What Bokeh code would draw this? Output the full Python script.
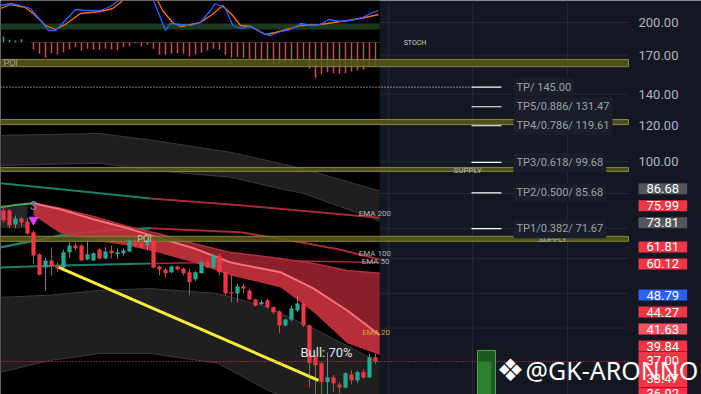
import numpy as np
from bokeh.plotting import figure
from bokeh.models import Range1d, LinearScale, Label
from bokeh.core.properties import value
from bokeh.embed import file_html
from bokeh.resources import INLINE

FONT = "Roboto"

# ---------------- data ----------------
opens = [78.5, 78.5, 73.2, 75.4, 74.3, 70.4, 63.1, 59.1, 61.2, 59.7,
         59.1, 63.7, 65.9, 65.9, 61.5, 61.2, 64.6, 61.8, 64.3, 63.1,
         63.4, 64.0, 66.9, 66.9, 65.9, 67.6, 59.4, 58.5, 57.7, 59.4,
         58.8, 57.7, 55.7, 57.4, 60.6, 59.1, 62.7, 57.7, 52.2, 51.9,
         53.8, 52.7, 50.4, 49.2, 50.2, 48.5, 47.5, 44.3, 45.6, 47.7,
         49.4, 44.3, 37.8, 36.7, 33.4, 34.2, 33.0, 32.5, 34.7, 33.7,
         35.1, 34.2, 37.8]
highs = [79.5, 79.0, 76.5, 75.9, 75.4, 71.0, 63.4, 62.1, 65.3, 60.6,
         64.6, 66.9, 66.9, 66.5, 67.6, 63.7, 65.0, 65.3, 65.9, 65.0,
         65.0, 67.9, 68.2, 68.5, 68.2, 68.2, 59.7, 59.1, 59.7, 59.7,
         59.1, 58.8, 58.0, 61.2, 61.0, 63.4, 63.4, 58.2, 56.8, 54.5,
         54.5, 53.2, 50.6, 50.2, 50.6, 48.7, 47.7, 45.6, 48.9, 51.4,
         49.7, 44.5, 38.2, 37.0, 38.7, 34.6, 33.4, 35.1, 35.4, 35.4,
         35.6, 38.4, 38.5]
lows = [73.9, 71.8, 71.8, 72.3, 69.5, 60.3, 56.8, 52.7, 56.8, 57.7,
        58.8, 62.1, 64.3, 61.0, 61.2, 61.0, 61.5, 61.6, 61.8, 61.8,
        62.7, 63.7, 65.3, 65.0, 64.3, 58.8, 56.8, 56.3, 57.4, 58.2,
        56.8, 51.4, 55.2, 57.4, 58.9, 58.8, 56.8, 51.4, 49.7, 49.7,
        51.9, 50.2, 48.7, 49.0, 48.2, 46.9, 42.6, 44.0, 45.2, 47.3,
        43.9, 32.5, 31.0, 31.0, 31.0, 31.8, 31.6, 32.4, 33.0, 33.3,
        33.9, 34.0, 36.5]
closes = [74.7, 72.8, 75.4, 73.9, 70.0, 62.7, 57.0, 61.2, 59.4, 58.8,
          63.7, 65.9, 65.0, 61.2, 63.1, 63.4, 61.8, 64.0, 63.4, 63.7,
          64.3, 67.6, 65.9, 65.3, 67.6, 59.1, 58.5, 57.4, 59.4, 58.5,
          57.4, 54.9, 57.7, 60.6, 59.1, 62.7, 57.7, 51.9, 51.9, 53.8,
          53.2, 50.4, 48.9, 49.7, 48.5, 47.3, 44.3, 45.6, 48.2, 49.4,
          44.3, 36.7, 36.3, 33.4, 34.2, 33.2, 32.5, 34.9, 33.7, 35.1,
          34.2, 37.8, 37.0]

# momentum histogram (one bar per candle)
hist_vals = [6, 2.7, 2, 3.3, 0, -7.3, -11.3, -15.3, -10.7, -12, -9.7, -7, -4.7, -8, -6.3,
             -7.3, -7.3, -6.3, -7, -8, -4.7, -3.7, -1, -3.7, -2.3,
             -6.3, -12.3, -12.3, -11.3, -10.7, -11.3, -14, -12.3, -10.3, -8,
             -6.3, -7.3, -12.3, -15.3, -14.7, -15.3, -16.3, -18.3, -18.3, -18.3,
             -22, -21, -20.3, -19.3, -17, -16.3, -26.3, -35.7, -32, -29.7,
             -30.7, -31.3, -30.7, -29, -28, -27, -24.3, -22.7]

# stochastic (sampled where read)
stoch_k_x = [0.5, 2.2, 3.8, 5.5, 7.2, 8.5, 9.7, 11.3, 13, 14.7, 17.2, 18.8, 20.2, 23, 25.5, 26,
             28, 28.8, 30.5, 32.2, 33.8, 35.5, 36.3, 38, 39.2, 40.5, 42.2, 44.2, 45.5, 47.2,
             48.8, 50.5, 52.2, 53.8, 55.2, 57.2, 58.8, 60.8, 62.5, 63.5]
stoch_k = [62, 66, 62, 56, 32, 12, 12, 32, 54, 52, 52, 60, 72, 112, 82, 72,
           12, 26, 24, 22, 28, 52, 66, 56, 22, 16, 20, 6, 2, 10,
           14, 26, 22, 24, 34, 30, 32, 38, 48, 52]
stoch_d_x = [0.5, 2.2, 4.7, 6.3, 8, 9.7, 11.3, 13.8, 17.2, 19.2, 20.5, 23, 26.3, 27.5, 29.2,
             30.5, 32.2, 33.8, 35.8, 37.5, 39.2, 40.5, 42.2, 44.7, 46.3, 48.8, 50.5, 53.8,
             57.2, 60.5, 63.5]
stoch_d = [56, 64, 58, 42, 22, 14, 24, 46, 50, 56, 68, 102, 82, 52, 28,
           20, 24, 28, 44, 62, 42, 22, 20, 4, 8, 16, 22, 24,
           30, 36, 44]
stoch_zone = [14, 26]

# moving-average ribbon and EMAs
cloud_x = [6, 10.5, 16, 21.7, 27.2, 32.7, 38.8, 47.2, 52.7, 58.3, 63.7]
cloud_top = [81.3, 79.3, 76.2, 72.5, 69.7, 66.6, 63.7, 61.8, 60.3, 58.2, 57.4]
ema20 = [81.3, 78.9, 75.1, 71.8, 68.3, 65.0, 60.6, 57.7, 53.2, 47.7, 42.2]
cloud_bot = [76.6, 70.0, 67.6, 65.9, 63.4, 60.6, 56.8, 53.5, 47.3, 40.5, 38.2]
ema20_up_x = [0.5, 3, 6]
ema20_up = [79.7, 80.6, 81.3]

ema200_bull_x, ema200_bull = [0.5, 13, 25.5], [89.8, 86.6, 83.3]
ema200_bear_x, ema200_bear = [25.5, 40.5, 63.7], [83.3, 80.5, 75.7]
ema100_bull_x, ema100_bull = [0.5, 10.5, 18, 25.5], [65.3, 69.3, 71.0, 71.8]
ema100_bear_x, ema100_bear = [25.5, 40.5, 50.5, 57, 63.7], [71.8, 70.4, 67.0, 64.6, 61.5]
ema50_bull_x, ema50_bull = [0.5, 10.5, 25.5], [59.1, 59.7, 60.3]
ema50_bear_x, ema50_bear = [25.5, 50.5, 63.7], [60.3, 61.0, 60.6]

# envelope bands
band_up_x = [0.5, 17, 26, 39, 47, 51, 63.7]
band_up_top = [114.0, 115.1, 111.2, 104.7, 99.2, 96.5, 86.5]
band_up_bot = [98.2, 99.2, 95.8, 92.5, 87.5, 85.4, 74.5]
band_lo_x = [0.5, 8.8, 17, 25.5, 36.7, 45, 53.3, 63.7]
band_lo_top = [50.9, 51.5, 52.7, 53.2, 51.9, 48.5, 43.2, 36.8]
band_lo_bot = [35.1, 37.2, 38.5, 38.5, 36.7, 32.1, 29.0, 27.0]

# zones
zone_lo = [160.5, 120.4, 95.3, 67.3]
zone_hi = [166.4, 123.4, 97.2, 69.0]

# targets
tp_vals = [145.00, 131.47, 119.61, 99.68, 85.68, 71.67]
tp_text = ["TP/ 145.00", "TP5/0.886/ 131.47", "TP4/0.786/ 119.61",
           "TP3/0.618/ 99.68", "TP2/0.500/ 85.68", "TP1/0.382/ 71.67"]

# trend line
trend_x = [10.2, 53.5]
trend_y = [59.1, 33.7]

# volume block
vol_x = [80.0, 83.0]
vol_top = [39.1, 37.0]

# price-scale
axis_ticks = [200, 170, 140, 120, 100]
grid_prices = [200, 170, 140, 120, 100, 85.4, 71.8, 61.8, 51.9, 43.7]
time_grid = [65.2, 79.2, 95.0]
side_vals = [86.68, 75.99, 73.81, 61.81, 60.12, 48.79, 44.27, 41.63, 39.84]
side_cols = ["#55565c", "#f23645", "#55565c", "#f23645", "#f23645", "#2962ff",
             "#f23645", "#f7525f", "#f23645"]
last_price = 37.00
countdown = "33:47"
below_vals = [36.92]

# ---------------- figure ----------------
W, H = 701, 394
x_lo, x_edge = 0.5, 105.17            # chart area (price scale lies to the right of x_edge)
px_per_bar = 628 / (x_edge - x_lo)
x_hi = x_lo + W / px_per_bar
y_lo, y_hi = 31.4, 223.1
dark_end = 63.7

p = figure(width=W, height=H, x_range=Range1d(x_lo, x_hi), y_range=Range1d(y_lo, y_hi),
           y_axis_type="log", y_axis_location=None, x_axis_location=None,
           toolbar_location=None, output_backend="svg",
           background_fill_color="#131722", border_fill_color="#131722",
           min_border=0)
p.outline_line_color = None
p.grid.visible = False
p.extra_y_ranges = {"stoch": Range1d(-716, 72), "hist": Range1d(-352, 42)}
p.extra_y_scales = {"stoch": LinearScale(), "hist": LinearScale()}

# grid of the chart area
p.segment(x0=[x_lo] * len(grid_prices), y0=grid_prices, x1=[x_edge] * len(grid_prices), y1=grid_prices,
          line_color="#262a35", line_width=1)
p.segment(x0=time_grid, y0=[y_lo] * len(time_grid), x1=time_grid, y1=[y_hi] * len(time_grid),
          line_color="#262a35", line_width=1)

# price scale tick labels
p.text(x=[x_edge + 10 / px_per_bar] * len(axis_ticks), y=axis_ticks, text=[f"{t:.2f}" for t in axis_ticks],
       text_color="#b2b5be", text_font=value(FONT), text_font_size="13px",
       text_baseline="middle", text_align="left")

# dark indicator panel
p.quad(left=[x_lo], right=[dark_end], bottom=[y_lo], top=[y_hi], fill_color="black", line_color=None)

# envelope bands
p.varea(x=band_up_x, y1=band_up_bot, y2=band_up_top, fill_color="#1f1f1f")
p.line(band_up_x, band_up_top, line_color="#3a3a3a", line_width=1)
p.line(band_up_x, band_up_bot, line_color="#3a3a3a", line_width=1)
p.varea(x=band_lo_x, y1=band_lo_bot, y2=band_lo_top, fill_color="#1f1f1f")
p.line(band_lo_x, band_lo_top, line_color="#3a3a3a", line_width=1)
p.line(band_lo_x, band_lo_bot, line_color="#3a3a3a", line_width=1)

# stochastic pane
p.quad(left=[x_lo], right=[dark_end], bottom=[stoch_zone[0]], top=[stoch_zone[1]],
       fill_color="#1a3a1e", line_color=None, y_range_name="stoch")
p.line(stoch_d_x, stoch_d, line_color="#ff6d00", line_width=1.3, y_range_name="stoch")
p.line(stoch_k_x, stoch_k, line_color="#2962ff", line_width=1.3, y_range_name="stoch")

# histogram
idx = np.arange(1, len(closes) + 1)
p.segment(x0=[5.5], y0=[0], x1=[dark_end], y1=[0], line_color="#333333", line_width=1, y_range_name="hist")
hcols = ["#26a69a" if v > 0 else "#d9464f" for v in hist_vals]
p.vbar(x=idx, top=hist_vals, bottom=0, width=0.25, fill_color=hcols, line_color=None, y_range_name="hist")

# EMAs (long)
p.line(ema200_bull_x, ema200_bull, line_color="#1b7f6e", line_width=2)
p.line(ema200_bear_x, ema200_bear, line_color="#a52a34", line_width=2)
p.line(ema100_bull_x, ema100_bull, line_color="#1b7f6e", line_width=2.5)
p.line(ema100_bear_x, ema100_bear, line_color="#a52a34", line_width=2)
p.line(ema50_bull_x, ema50_bull, line_color="#1b7f6e", line_width=2)
p.line(ema50_bear_x, ema50_bear, line_color="#a52a34", line_width=1.5)

# ribbon
p.varea(x=cloud_x, y1=ema20, y2=cloud_top, fill_color="#95222c", fill_alpha=0.92)
p.varea(x=cloud_x, y1=cloud_bot, y2=ema20, fill_color="#cb323e", fill_alpha=0.9)
p.line(cloud_x, cloud_top, line_color="#b2303a", line_width=1.5)
p.line(cloud_x, ema20, line_color="#f3727a", line_width=2)
p.line(ema20_up_x, ema20_up, line_color="#4caf50", line_width=2)

# zones
p.quad(left=x_lo, right=x_edge, bottom=zone_lo, top=zone_hi, fill_color="#5a5a1f", fill_alpha=0.85,
       line_color="#85853a", line_width=1)

# candles
inc = [c >= o for o, c in zip(opens, closes)]
cols = ["#22ab94" if u else "#f23645" for u in inc]
body_lo = [min(o, c) for o, c in zip(opens, closes)]
body_hi = [max(o, c) for o, c in zip(opens, closes)]
p.quad(left=[x_lo], right=[5], bottom=[lows[1]], top=[80.5], fill_color="#6a6d78", fill_alpha=0.35, line_color=None)
p.segment(x0=idx, y0=lows, x1=idx, y1=highs, line_color=cols, line_width=1)
p.vbar(x=idx, bottom=body_lo, top=body_hi, width=0.7, fill_color=cols, line_color=None)

# signal marker
p.text(x=[6], y=[80.1], text=["S"], text_color="#8e82b8", text_font=value(FONT),
       text_font_size="12px", text_align="center", text_baseline="middle")
p.scatter(x=[6], y=[74.9], marker="inverted_triangle", size=9, color="#e040fb")

# trend line
p.line(trend_x, trend_y, line_color="#ffeb3b", line_width=3)

# dotted lines
p.segment(x0=[x_lo], y0=[tp_vals[0]], x1=[79.0], y1=[tp_vals[0]], line_color="white",
          line_dash="1 2", line_width=1)
p.segment(x0=[x_lo], y0=[last_price], x1=[x_edge], y1=[last_price], line_color="#f23645",
          line_dash="1 2", line_width=1)

# TP lines and labels
p.segment(x0=[79.0] * len(tp_vals), y0=tp_vals, x1=[84.0] * len(tp_vals), y1=tp_vals,
          line_color="white", line_width=1.2)
for v, t in zip(tp_vals, tp_text):
    p.add_layout(Label(x=86.0, y=v, text=t, text_color="#9ea1aa", text_font=FONT,
                       text_font_size="11px", text_baseline="middle", text_align="left",
                       background_fill_color="#1a1e29", background_fill_alpha=1.0, padding=3))

# volume block
p.quad(left=[vol_x[0]], right=[vol_x[1]], bottom=[y_lo], top=[vol_top[0]], fill_color="#1d5a21",
       line_color="#3fae45", line_width=1)
p.quad(left=[vol_x[0] + 0.1], right=[vol_x[1] - 0.7], bottom=[y_lo], top=[vol_top[1]],
       fill_color="#2b7f30", line_color=None)

# texts
txt = dict(text_font=value(FONT), text_baseline="middle", text_align="left")
p.text(x=[1.0], y=[163.5], text=["POI"], text_color="#a0a0a0", text_font_size="9px", **txt)
p.text(x=[23.3], y=[68.1], text=["POI"], text_color="#c8c8c8", text_font_size="9px", **txt)
p.text(x=[76.0, 90.2], y=[95.8, 67.9], text=["SUPPLY", "SUPPLY"], text_color="#b2b5be",
       text_font_size="8px", **txt)
p.text(x=[67.7], y=[181.0], text=["STOCH"], text_color="#d1d4dc", text_font_size="7px", **txt)
p.text(x=[60.2, 60.2, 60.7], y=[77.2, 63.2, 60.8], text=["EMA 200", "EMA 100", "EMA 50"],
       text_color="#b2b5be", text_font_size="8px", **txt)
p.text(x=[60.8], y=[42.7], text=["EMA 20"], text_color="#d4a72c", text_font_size="8px", **txt)
p.text(x=[50.5], y=[38.7], text=["Bull: 70%"], text_color="#e6e6e6", text_font_size="13px", **txt)

# price scale labels, stacked so they do not overlap
llo, lhi = np.log(y_lo), np.log(y_hi)


def to_px(v):
    return (lhi - np.log(v)) / (lhi - llo) * H


def from_px(px):
    return float(np.exp(lhi - px / H * (lhi - llo)))


step = 17
cur_px = to_px(last_price)
placed = {}
limit = cur_px - 7 - step / 2
for v in sorted(side_vals):
    c = min(to_px(v), limit)
    placed[v] = c
    limit = c - step
limit = cur_px + 23 + step / 2
for v in sorted(below_vals, reverse=True):
    c = max(to_px(v), limit)
    placed[v] = c
    limit = c + step

lab_x = x_edge + 10 / px_per_bar
lab = dict(text_color="white", text_font=FONT, text_font_size="13px", text_baseline="middle",
           text_align="left", background_fill_alpha=1.0, padding=(8, 1))
for v, col in zip(side_vals, side_cols):
    p.add_layout(Label(x=lab_x, y=from_px(placed[v]), text=f"{v:.2f}", background_fill_color=col, **lab))
for v in below_vals:
    p.add_layout(Label(x=lab_x, y=from_px(placed[v]), text=f"{v:.2f}", background_fill_color="#f23645", **lab))
p.add_layout(Label(x=lab_x, y=from_px(cur_px + 8), text=f"{last_price:.2f}\n{countdown}",
                   background_fill_color="#f23645", **lab))

# watermark
p.add_layout(Label(x=85.5, y=35.4, text="❖", text_color="white", text_font="DejaVu Sans",
                   text_font_size="31px", text_align="center", text_baseline="middle"))
p.add_layout(Label(x=88.0, y=35.4, text="@GK-ARONNO", text_color="white", text_font="Noto Sans",
                   text_font_size="25px", text_align="left", text_baseline="middle"))

open("out.html", "w").write(file_html(p, INLINE))
